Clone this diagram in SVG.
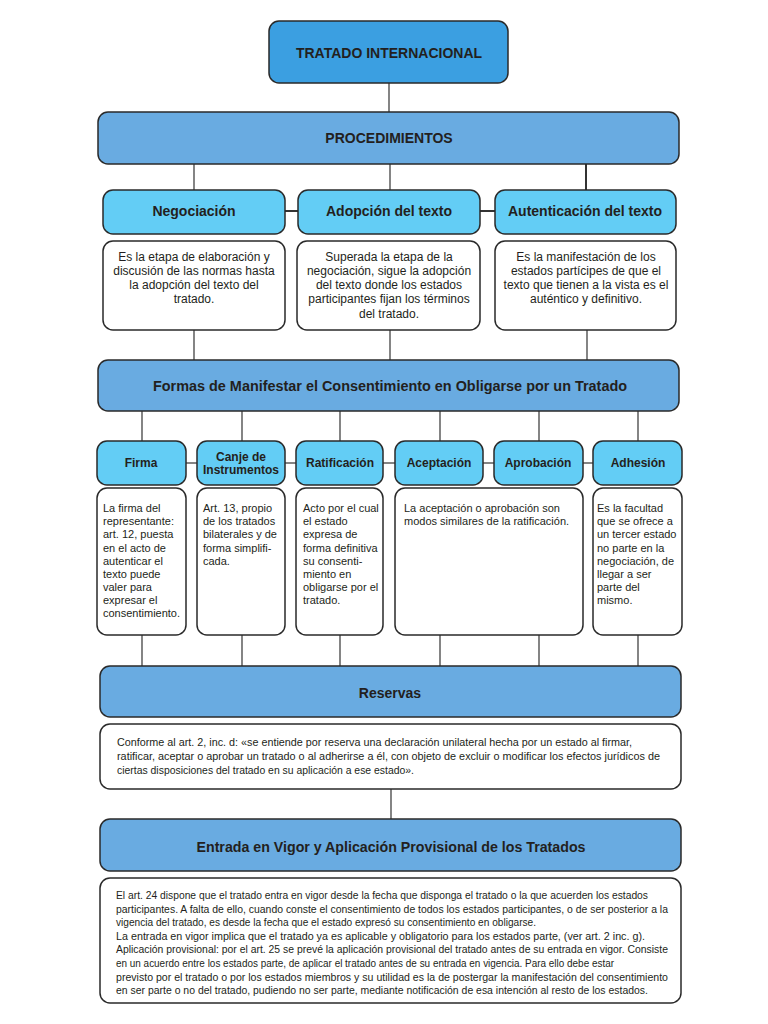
<svg xmlns="http://www.w3.org/2000/svg" width="768" height="1024" viewBox="0 0 768 1024">
<style>
  .bg{fill:#ffffff}
  .top{fill:#3b9fe1;stroke:#2a2a2a;stroke-width:1.5}
  .bar{fill:#69abe1;stroke:#2a2a2a;stroke-width:1.5}
  .hd{fill:#63cdf5;stroke:#2a2a2a;stroke-width:1.5}
  .desc{fill:#ffffff;stroke:#2a2a2a;stroke-width:1.5}
  .con line{stroke:#333333;stroke-width:1.2}
  text{font-family:"Liberation Sans",Arial,sans-serif;fill:#231f20}
  .t1{font-size:14px;font-weight:bold;text-anchor:middle}
  .t2{font-size:14px;font-weight:bold;text-anchor:middle}
  .t3{font-size:12px;font-weight:bold;text-anchor:middle}
  .d{font-size:12px;text-anchor:middle}
  .s{font-size:11px}
  .p{font-size:11.5px}
</style>
<rect class="bg" x="0" y="0" width="768" height="1024"/>
<g id="connectors" class="con">
  <line x1="389" y1="83" x2="389" y2="112"/>
  <line x1="194" y1="164" x2="194" y2="190"/>
  <line x1="390" y1="164" x2="390" y2="190"/>
  <line x1="586" y1="164" x2="586" y2="190" style="stroke-width:2"/>
  <line x1="285" y1="211" x2="298" y2="211" style="stroke-width:2"/>
  <line x1="480" y1="211" x2="495" y2="211" style="stroke-width:2"/>
  <line x1="194" y1="330" x2="194" y2="360"/>
  <line x1="390" y1="330" x2="390" y2="360"/>
  <line x1="587" y1="330" x2="587" y2="360"/>
  <line x1="142" y1="411" x2="142" y2="441"/>
  <line x1="242" y1="411" x2="242" y2="441"/>
  <line x1="340" y1="411" x2="340" y2="441"/>
  <line x1="440" y1="411" x2="440" y2="441"/>
  <line x1="539" y1="411" x2="539" y2="441"/>
  <line x1="638" y1="411" x2="638" y2="441"/>
  <line x1="186" y1="463" x2="197" y2="463"/>
  <line x1="285" y1="463" x2="296" y2="463"/>
  <line x1="383" y1="463" x2="395" y2="463"/>
  <line x1="483" y1="463" x2="494" y2="463"/>
  <line x1="583" y1="463" x2="593" y2="463"/>
  <line x1="142" y1="635" x2="142" y2="666"/>
  <line x1="242" y1="635" x2="242" y2="666"/>
  <line x1="340" y1="635" x2="340" y2="666"/>
  <line x1="440" y1="635" x2="440" y2="666"/>
  <line x1="539" y1="635" x2="539" y2="666"/>
  <line x1="638" y1="635" x2="638" y2="666"/>
  <line x1="391" y1="789" x2="391" y2="819"/>
</g>
<g id="tratado">
  <rect class="top" x="269" y="21" width="239" height="62" rx="10"/>
  <text class="t1" x="389" y="58">TRATADO INTERNACIONAL</text>
</g>
<g id="procedimientos">
  <rect class="bar" x="98" y="112" width="581" height="52" rx="10"/>
  <text class="t1" x="389" y="143">PROCEDIMIENTOS</text>
</g>
<g id="negociacion">
  <rect class="hd" x="103" y="190" width="182" height="44" rx="10"/>
  <text class="t2" x="194" y="216">Negociación</text>
</g>
<g id="adopcion">
  <rect class="hd" x="298" y="190" width="182" height="44" rx="10"/>
  <text class="t2" x="389" y="216">Adopción del texto</text>
</g>
<g id="autenticacion">
  <rect class="hd" x="495" y="190" width="181" height="44" rx="10"/>
  <text class="t2" x="585" y="216">Autenticación del texto</text>
</g>
<g id="negociacion-desc">
  <rect class="desc" x="103" y="241" width="182" height="89" rx="10"/>
  <text class="d" x="194" y="261">Es la etapa de elaboración y</text>
  <text class="d" x="194" y="275">discusión de las normas hasta</text>
  <text class="d" x="194" y="289">la adopción del texto del</text>
  <text class="d" x="194" y="303">tratado.</text>
</g>
<g id="adopcion-desc">
  <rect class="desc" x="297" y="241" width="183" height="89" rx="10"/>
  <text class="d" x="389" y="261">Superada la etapa de la</text>
  <text class="d" x="389" y="275">negociación, sigue la adopción</text>
  <text class="d" x="389" y="289">del texto donde los estados</text>
  <text class="d" x="389" y="303">participantes fijan los términos</text>
  <text class="d" x="389" y="318">del tratado.</text>
</g>
<g id="autenticacion-desc">
  <rect class="desc" x="495" y="241" width="181" height="89" rx="10"/>
  <text class="d" x="586" y="261">Es la manifestación de los</text>
  <text class="d" x="586" y="275">estados partícipes de que el</text>
  <text class="d" x="586" y="289">texto que tienen a la vista es el</text>
  <text class="d" x="586" y="303">auténtico y definitivo.</text>
</g>
<g id="formas">
  <rect class="bar" x="98" y="360" width="581" height="51" rx="10"/>
  <text class="t2" x="390" y="391" textLength="474" lengthAdjust="spacingAndGlyphs">Formas de Manifestar el Consentimiento en Obligarse por un Tratado</text>
</g>
<g id="firma">
  <rect class="hd" x="97" y="441" width="89" height="44" rx="10"/>
  <text class="t3" x="141" y="467">Firma</text>
</g>
<g id="canje">
  <rect class="hd" x="197" y="441" width="88" height="44" rx="10"/>
  <text class="t3" x="241" y="461">Canje de</text>
  <text class="t3" x="241" y="474">Instrumentos</text>
</g>
<g id="ratificacion">
  <rect class="hd" x="296" y="441" width="87" height="44" rx="10"/>
  <text class="t3" x="340" y="467">Ratificación</text>
</g>
<g id="aceptacion">
  <rect class="hd" x="395" y="441" width="88" height="44" rx="10"/>
  <text class="t3" x="439" y="467">Aceptación</text>
</g>
<g id="aprobacion">
  <rect class="hd" x="494" y="441" width="89" height="44" rx="10"/>
  <text class="t3" x="538" y="467">Aprobación</text>
</g>
<g id="adhesion">
  <rect class="hd" x="593" y="441" width="89" height="44" rx="10"/>
  <text class="t3" x="638" y="467">Adhesión</text>
</g>
<g id="firma-desc">
  <rect class="desc" x="97" y="488" width="89" height="147" rx="10"/>
  <text class="s" x="103" y="512">La firma del</text>
  <text class="s" x="103" y="525">representante:</text>
  <text class="s" x="103" y="538">art. 12, puesta</text>
  <text class="s" x="103" y="551.5">en el acto de</text>
  <text class="s" x="103" y="564.5">autenticar el</text>
  <text class="s" x="103" y="578">texto puede</text>
  <text class="s" x="103" y="591">valer para</text>
  <text class="s" x="103" y="604">expresar el</text>
  <text class="s" x="103" y="617">consentimiento.</text>
</g>
<g id="canje-desc">
  <rect class="desc" x="197" y="488" width="88" height="147" rx="10"/>
  <text class="s" x="203" y="512">Art. 13, propio</text>
  <text class="s" x="203" y="525">de los tratados</text>
  <text class="s" x="203" y="538">bilaterales y de</text>
  <text class="s" x="203" y="551.5">forma simplifi-</text>
  <text class="s" x="203" y="564.5">cada.</text>
</g>
<g id="ratificacion-desc">
  <rect class="desc" x="296" y="488" width="87" height="147" rx="10"/>
  <text class="s" x="303" y="512">Acto por el cual</text>
  <text class="s" x="303" y="525">el estado</text>
  <text class="s" x="303" y="538">expresa de</text>
  <text class="s" x="303" y="551.5">forma definitiva</text>
  <text class="s" x="303" y="564.5">su consenti-</text>
  <text class="s" x="303" y="578">miento en</text>
  <text class="s" x="303" y="591">obligarse por el</text>
  <text class="s" x="303" y="604">tratado.</text>
</g>
<g id="aceptacion-aprobacion-desc">
  <rect class="desc" x="395" y="488" width="188" height="147" rx="10"/>
  <text class="s" x="404" y="512">La aceptación o aprobación son</text>
  <text class="s" x="404" y="525">modos similares de la ratificación.</text>
</g>
<g id="adhesion-desc">
  <rect class="desc" x="593" y="488" width="89" height="147" rx="10"/>
  <text class="s" x="597" y="512">Es la facultad</text>
  <text class="s" x="597" y="525">que se ofrece a</text>
  <text class="s" x="597" y="538">un tercer estado</text>
  <text class="s" x="597" y="551.5">no parte en la</text>
  <text class="s" x="597" y="564.5">negociación, de</text>
  <text class="s" x="597" y="578">llegar a ser</text>
  <text class="s" x="597" y="591">parte del</text>
  <text class="s" x="597" y="604">mismo.</text>
</g>
<g id="reservas">
  <rect class="bar" x="100" y="666" width="581" height="51" rx="10"/>
  <text class="t2" x="390" y="698">Reservas</text>
</g>
<g id="reservas-desc">
  <rect class="desc" x="100" y="724" width="581" height="65" rx="10"/>
  <text class="p" x="117" y="746" textLength="515" lengthAdjust="spacingAndGlyphs">Conforme al art. 2, inc. d: «se entiende por reserva una declaración unilateral hecha por un estado al firmar,</text>
  <text class="p" x="117" y="760" textLength="543" lengthAdjust="spacingAndGlyphs">ratificar, aceptar o aprobar un tratado o al adherirse a él, con objeto de excluir o modificar los efectos jurídicos de</text>
  <text class="p" x="117" y="774" textLength="297" lengthAdjust="spacingAndGlyphs">ciertas disposiciones del tratado en su aplicación a ese estado».</text>
</g>
<g id="entrada">
  <rect class="bar" x="100" y="819" width="581" height="52" rx="10"/>
  <text class="t2" x="391" y="852" textLength="389" lengthAdjust="spacingAndGlyphs">Entrada en Vigor y Aplicación Provisional de los Tratados</text>
</g>
<g id="entrada-desc">
  <rect class="desc" x="100" y="878" width="581" height="125" rx="10"/>
  <text class="p" x="116" y="899" textLength="532" lengthAdjust="spacingAndGlyphs">El art. 24 dispone que el tratado entra en vigor desde la fecha que disponga el tratado o la que acuerden los estados</text>
  <text class="p" x="116" y="912.6" textLength="552" lengthAdjust="spacingAndGlyphs">participantes. A falta de ello, cuando conste el consentimiento de todos los estados participantes, o de ser posterior a la</text>
  <text class="p" x="116" y="926.2" textLength="420" lengthAdjust="spacingAndGlyphs">vigencia del tratado, es desde la fecha que el estado expresó su consentimiento en obligarse.</text>
  <text class="p" x="116" y="939.8" textLength="529" lengthAdjust="spacingAndGlyphs">La entrada en vigor implica que el tratado ya es aplicable y obligatorio para los estados parte, (ver art. 2 inc. g).</text>
  <text class="p" x="116" y="953.4" textLength="552" lengthAdjust="spacingAndGlyphs">Aplicación provisional: por el art. 25 se prevé la aplicación provisional del tratado antes de su entrada en vigor. Consiste</text>
  <text class="p" x="116" y="967" textLength="498" lengthAdjust="spacingAndGlyphs">en un acuerdo entre los estados parte, de aplicar el tratado antes de su entrada en vigencia. Para ello debe estar</text>
  <text class="p" x="116" y="980.6" textLength="552" lengthAdjust="spacingAndGlyphs">previsto por el tratado o por los estados miembros y su utilidad es la de postergar la manifestación del consentimiento</text>
  <text class="p" x="116" y="994.2" textLength="532" lengthAdjust="spacingAndGlyphs">en ser parte o no del tratado, pudiendo no ser parte, mediante notificación de esa intención al resto de los estados.</text>
</g>
</svg>
